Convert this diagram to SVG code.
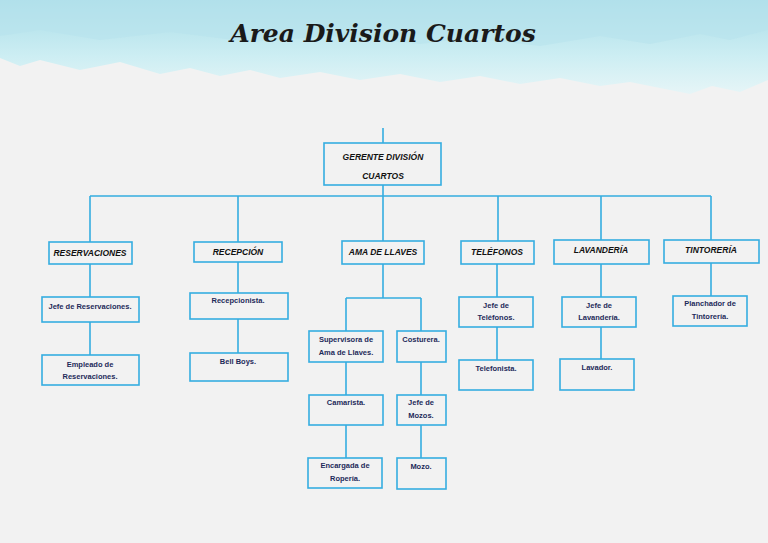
<svg xmlns="http://www.w3.org/2000/svg" width="768" height="543" viewBox="0 0 768 543">
<defs>
<linearGradient id="wc" x1="0" y1="0" x2="0" y2="1">
<stop offset="0" stop-color="#a9dde8"/><stop offset="0.6" stop-color="#cdeef3"/><stop offset="1" stop-color="#e6f5f7"/>
</linearGradient>
</defs>
<style>
.b{fill:#f2f2f2;stroke:#35ade0;stroke-width:1.6}
.l{stroke:#35ade0;stroke-width:1.6;fill:none}
.h{font-family:"Liberation Sans",sans-serif;font-weight:bold;font-style:italic;font-size:8.5px;fill:#111;text-anchor:middle}
.t{font-family:"Liberation Sans",sans-serif;font-weight:bold;font-size:7.5px;fill:#1e2a5a;text-anchor:middle}
</style>
<rect width="768" height="543" fill="#f2f2f2"/>
<path d="M0 0H768V80L740 92 712 86 690 94 660 88 630 82 600 86 560 78 520 84 480 76 440 82 400 74 360 80 320 72 280 78 250 70 220 76 190 68 160 74 120 62 80 70 40 60 20 66 0 58Z" fill="url(#wc)"/>
<path d="M0 0H768V30L730 40 700 34 650 44 600 36 540 46 470 38 420 44 330 36 250 42 170 32 100 40 40 30 0 36Z" fill="#b7e2ec" opacity="0.6"/>
<text x="383" y="42" font-family="'DejaVu Serif',serif" font-style="italic" font-weight="bold" font-size="25" fill="#1a1a1a" text-anchor="middle">Area Division Cuartos</text>
<g id="connectors">
<path class="l" d="M383 128V143M383 185V196M90 196H711M90 196V242M238 196V242M383 196V241M498 196V241M601 196V240M711 196V240"/>
<path class="l" d="M90 264V297M90 322V355M238 262V293M238 319V353"/>
<path class="l" d="M383 264V298M346 298H421M346 298V331M421 298V331M346 362V395M346 425V458M421 362V395M421 425V458"/>
<path class="l" d="M497 264V297M497 327V360M601 264V297M601 327V359M711 263V296"/>
</g>
<g id="gerente"><rect class="b" x="324" y="143" width="117" height="42"/><text class="h" font-size="10" x="383" y="160">GERENTE DIVISIÓN</text><text class="h" font-size="10" x="383" y="179">CUARTOS</text></g>
<g id="reservaciones"><rect class="b" x="49" y="242" width="83" height="22"/><text class="h" x="90" y="256">RESERVACIONES</text></g>
<g id="recepcion"><rect class="b" x="194" y="242" width="88" height="20"/><text class="h" x="238" y="255">RECEPCIÓN</text></g>
<g id="ama"><rect class="b" x="342" y="241" width="82" height="23"/><text class="h" x="383" y="255">AMA DE LLAVES</text></g>
<g id="telefonos"><rect class="b" x="461" y="241" width="73" height="23"/><text class="h" x="497" y="255">TELÉFONOS</text></g>
<g id="lavanderia"><rect class="b" x="554" y="240" width="95" height="24"/><text class="h" x="601" y="253">LAVANDERÍA</text></g>
<g id="tintoreria"><rect class="b" x="664" y="240" width="95" height="23"/><text class="h" x="711" y="253">TINTORERÍA</text></g>
<g id="jefe-res"><rect class="b" x="42" y="297" width="97" height="25"/><text class="t" x="90" y="309">Jefe de Reservaciones.</text></g>
<g id="empleado-res"><rect class="b" x="42" y="355" width="97" height="30"/><text class="t" x="90" y="367">Empleado de</text><text class="t" x="90" y="379">Reservaciones.</text></g>
<g id="recepcionista"><rect class="b" x="190" y="293" width="98" height="26"/><text class="t" x="238" y="303">Recepcionista.</text></g>
<g id="bellboys"><rect class="b" x="190" y="353" width="98" height="28"/><text class="t" x="238" y="364">Bell Boys.</text></g>
<g id="supervisora"><rect class="b" x="309" y="331" width="74" height="31"/><text class="t" x="346" y="342">Supervisora de</text><text class="t" x="346" y="355">Ama de Llaves.</text></g>
<g id="costurera"><rect class="b" x="397" y="331" width="49" height="31"/><text class="t" x="421" y="342">Costurera.</text></g>
<g id="camarista"><rect class="b" x="309" y="395" width="74" height="30"/><text class="t" x="346" y="405">Camarista.</text></g>
<g id="jefe-mozos"><rect class="b" x="397" y="395" width="49" height="30"/><text class="t" x="421" y="405">Jefe de</text><text class="t" x="421" y="418">Mozos.</text></g>
<g id="encargada"><rect class="b" x="308" y="458" width="74" height="30"/><text class="t" x="345" y="468">Encargada de</text><text class="t" x="345" y="481">Ropería.</text></g>
<g id="mozo"><rect class="b" x="397" y="458" width="49" height="31"/><text class="t" x="421" y="469">Mozo.</text></g>
<g id="jefe-tel"><rect class="b" x="459" y="297" width="74" height="30"/><text class="t" x="496" y="308">Jefe de</text><text class="t" x="496" y="320">Teléfonos.</text></g>
<g id="telefonista"><rect class="b" x="459" y="360" width="74" height="30"/><text class="t" x="496" y="371">Telefonista.</text></g>
<g id="jefe-lav"><rect class="b" x="562" y="297" width="74" height="30"/><text class="t" x="599" y="308">Jefe de</text><text class="t" x="599" y="320">Lavandería.</text></g>
<g id="lavador"><rect class="b" x="560" y="359" width="74" height="31"/><text class="t" x="597" y="370">Lavador.</text></g>
<g id="planchador"><rect class="b" x="673" y="296" width="74" height="30"/><text class="t" x="710" y="306">Planchador de</text><text class="t" x="710" y="319">Tintorería.</text></g>
</svg>
